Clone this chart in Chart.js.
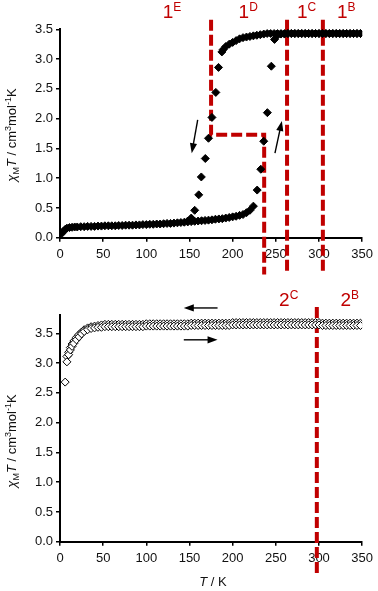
<!DOCTYPE html>
<html>
<head>
<meta charset="utf-8">
<script src="https://cdn.jsdelivr.net/npm/chart.js@4/dist/chart.umd.min.js"></script>
<style>
  html, body { margin: 0; padding: 0; background: #fff; }
  #wrap { position: relative; width: 378px; height: 591px; }
  canvas { position: absolute; left: 0; }
  #chartTop { top: 0; }
  #chartBot { top: 285px; }
</style>
</head>
<body>
<div id="wrap">
  <canvas id="chartTop" width="378" height="285"></canvas>
  <canvas id="chartBot" width="378" height="306"></canvas>
</div>
<script>
// --- data: compound 1 (filled diamonds), heating branch
var heatT1 = [2, 4, 6, 8, 11, 14, 17, 20, 24, 28,
  32, 36, 40, 44, 48, 52, 56, 60, 64, 68,
  72, 76, 80, 84, 88, 92, 96, 100, 104, 108,
  112, 116, 120, 124, 128, 132, 136, 140, 144, 148,
  152, 156, 160, 164, 168, 172, 176, 180, 184, 188,
  192, 196, 200, 204, 208, 212, 216, 220, 224, 228.4,
  232.6, 236, 240.2, 244.8, 248.5, 252, 256, 260, 264, 268,
  272, 276, 280, 284, 288, 292, 296, 300, 304, 308,
  312, 316, 320, 324, 328, 332, 336, 340, 344, 348];
var heatChi1 = [0.07, 0.11, 0.14, 0.16, 0.17, 0.175, 0.18, 0.18, 0.185, 0.185,
  0.19, 0.19, 0.19, 0.195, 0.195, 0.2, 0.2, 0.2, 0.2, 0.205,
  0.205, 0.21, 0.21, 0.21, 0.215, 0.215, 0.22, 0.22, 0.225, 0.225,
  0.23, 0.23, 0.235, 0.24, 0.24, 0.245, 0.25, 0.255, 0.26, 0.265,
  0.27, 0.275, 0.28, 0.285, 0.29, 0.295, 0.3, 0.31, 0.315, 0.32,
  0.33, 0.34, 0.35, 0.36, 0.375, 0.39, 0.42, 0.46, 0.53, 0.8,
  1.15, 1.62, 2.1, 2.88, 3.33, 3.4, 3.42, 3.42, 3.43, 3.43,
  3.43, 3.43, 3.43, 3.43, 3.43, 3.43, 3.43, 3.43, 3.43, 3.43,
  3.43, 3.43, 3.43, 3.43, 3.43, 3.43, 3.43, 3.43, 3.43, 3.43];

// compound 1, cooling branch
var coolT1 = [348, 344, 340, 336, 332, 328, 324, 320, 316, 312,
  308, 304, 300, 296, 292, 288, 284, 280, 276, 272,
  268, 264, 260, 256, 252, 248, 244, 240, 236, 232,
  228, 224, 220, 216, 212, 208, 204, 200, 196, 192,
  189, 187.5, 183.6, 180.5, 176, 172, 168.3, 163.7, 160.7, 156,
  152, 148];
var coolChi1 = [3.43, 3.43, 3.43, 3.43, 3.43, 3.43, 3.43, 3.43, 3.43, 3.43,
  3.43, 3.43, 3.43, 3.43, 3.43, 3.43, 3.43, 3.43, 3.43, 3.43,
  3.43, 3.43, 3.43, 3.43, 3.43, 3.43, 3.43, 3.43, 3.42, 3.41,
  3.40, 3.39, 3.38, 3.37, 3.36, 3.34, 3.31, 3.28, 3.25, 3.21,
  3.16, 3.12, 2.86, 2.44, 2.02, 1.67, 1.33, 1.02, 0.72, 0.46,
  0.33, 0.28];

// compound 2 (open diamonds), both branches on one temperature grid
var temps2 = [6, 8, 10, 12, 14, 16, 19, 22, 25, 28,
  32, 36, 40, 44, 48, 52, 56, 60, 64, 68,
  72, 76, 80, 84, 88, 92, 96, 100, 104, 108,
  112, 116, 120, 124, 128, 132, 136, 140, 144, 148,
  152, 156, 160, 164, 168, 172, 176, 180, 184, 188,
  192, 196, 200, 204, 208, 212, 216, 220, 224, 228,
  232, 236, 240, 244, 248, 252, 256, 260, 264, 268,
  272, 276, 280, 284, 288, 292, 296, 300, 304, 308,
  312, 316, 320, 324, 328, 332, 336, 340, 344, 348];
var heatChi2 = [2.68, 3.02, 3.14, 3.22, 3.28, 3.33, 3.39, 3.44, 3.49, 3.53,
  3.56, 3.58, 3.59, 3.60, 3.60, 3.61, 3.61, 3.61, 3.61, 3.61,
  3.61, 3.61, 3.61, 3.61, 3.61, 3.61, 3.61, 3.62, 3.62, 3.62,
  3.62, 3.62, 3.62, 3.62, 3.62, 3.62, 3.62, 3.62, 3.62, 3.62,
  3.63, 3.63, 3.63, 3.63, 3.63, 3.63, 3.63, 3.63, 3.63, 3.63,
  3.63, 3.63, 3.64, 3.64, 3.64, 3.64, 3.64, 3.64, 3.64, 3.64,
  3.64, 3.64, 3.64, 3.64, 3.64, 3.64, 3.64, 3.64, 3.64, 3.64,
  3.64, 3.64, 3.64, 3.64, 3.64, 3.64, 3.64, 3.64, 3.63, 3.63,
  3.63, 3.63, 3.63, 3.63, 3.63, 3.63, 3.63, 3.63, 3.63, 3.63];
var coolChi2 = [null, 3.11, 3.18, 3.26, 3.32, 3.37, 3.43, 3.48, 3.52, 3.56,
  3.59, 3.61, 3.62, 3.63, 3.64, 3.65, 3.65, 3.65, 3.65, 3.65,
  3.65, 3.65, 3.65, 3.65, 3.65, 3.65, 3.65, 3.66, 3.66, 3.66,
  3.66, 3.66, 3.66, 3.66, 3.66, 3.66, 3.66, 3.66, 3.66, 3.66,
  3.67, 3.67, 3.67, 3.67, 3.67, 3.67, 3.67, 3.67, 3.67, 3.67,
  3.67, 3.67, 3.68, 3.68, 3.68, 3.68, 3.68, 3.68, 3.68, 3.68,
  3.68, 3.68, 3.68, 3.68, 3.68, 3.68, 3.68, 3.68, 3.68, 3.68,
  3.68, 3.68, 3.68, 3.68, 3.68, 3.68, 3.68, 3.68, 3.67, 3.67,
  3.67, 3.67, 3.67, 3.67, 3.67, 3.67, 3.67, 3.67, 3.67, 3.67];

// ticks
var xTicks = [0, 50, 100, 150, 200, 250, 300, 350];
var yTicks = [0, 0.5, 1, 1.5, 2, 2.5, 3, 3.5];

// red dashed markers (phase temperatures)
var redLineTopA_T = [175, 175, 236.5, 236.5];
var redLineTopA_Y = [3.66, 1.73, 1.73, -0.62];
var redLineTopC_T = [263, 263];
var redLineTopB_T = [304.5, 304.5];
var redLineTop_Y = [3.66, -0.62];
var redLineBot_T = [297.5, 297.5];
var redLineBot_Y = [3.94, -0.59];

var RED = '#c00000';
var FONT = '"Liberation Sans", Arial, sans-serif';

function pts(xs, ys) {
  return xs.map(function(x, i) { return { x: x, y: ys[i] }; });
}

function drawRich(ctx, parts, cx, cy, rotate, color) {
  ctx.save();
  ctx.translate(cx, cy);
  if (rotate) ctx.rotate(-Math.PI / 2);
  var total = 0;
  parts.forEach(function(p) { ctx.font = p.font; p.w = ctx.measureText(p.t).width; total += p.w; });
  var x = -total / 2;
  ctx.textBaseline = 'alphabetic';
  ctx.textAlign = 'left';
  ctx.fillStyle = color;
  parts.forEach(function(p) { ctx.font = p.font; ctx.fillText(p.t, x, p.dy || 0); x += p.w; });
  ctx.restore();
}

function drawArrow(ctx, x1, y1, x2, y2) {
  var ang = Math.atan2(y2 - y1, x2 - x1);
  var hl = 10, hw = 3.6;
  ctx.save();
  ctx.strokeStyle = '#000';
  ctx.fillStyle = '#000';
  ctx.lineWidth = 1.4;
  ctx.beginPath();
  ctx.moveTo(x1, y1);
  ctx.lineTo(x2 - Math.cos(ang) * hl * 0.8, y2 - Math.sin(ang) * hl * 0.8);
  ctx.stroke();
  ctx.beginPath();
  ctx.moveTo(x2, y2);
  ctx.lineTo(x2 - Math.cos(ang) * hl - Math.sin(ang) * hw, y2 - Math.sin(ang) * hl + Math.cos(ang) * hw);
  ctx.lineTo(x2 - Math.cos(ang) * hl + Math.sin(ang) * hw, y2 - Math.sin(ang) * hl - Math.cos(ang) * hw);
  ctx.closePath();
  ctx.fill();
  ctx.restore();
}

var yTitleParts = [
  { t: 'χ', font: 'italic 13px ' + FONT },
  { t: 'M', font: '9px ' + FONT, dy: 3 },
  { t: 'T', font: 'italic 13px ' + FONT },
  { t: ' / cm', font: '13px ' + FONT },
  { t: '3', font: '9px ' + FONT, dy: -5 },
  { t: 'mol', font: '13px ' + FONT },
  { t: '-1', font: '9px ' + FONT, dy: -5 },
  { t: 'K', font: '13px ' + FONT }
];
var xTitleParts = [
  { t: 'T', font: 'italic 13px ' + FONT },
  { t: ' / K', font: '13px ' + FONT }
];

function annoPlugin(cfg) {
  return {
    id: 'anno',
    afterDatasetsDraw: function(chart) {
      var ctx = chart.ctx, xs = chart.scales.x, ys = chart.scales.y;
      cfg.arrows.forEach(function(a) {
        drawArrow(ctx, xs.getPixelForValue(a[0]), ys.getPixelForValue(a[1]),
          xs.getPixelForValue(a[2]), ys.getPixelForValue(a[3]));
      });
      cfg.labels.forEach(function(l) {
        drawRich(ctx, [
          { t: l[0], font: '19px ' + FONT },
          { t: l[1], font: '12px ' + FONT, dy: -7 }
        ], xs.getPixelForValue(l[2]), ys.getPixelForValue(l[3]), false, RED);
      });
      drawRich(ctx, yTitleParts, 16, cfg.titleY, true, '#111');
      if (cfg.xTitle) drawRich(ctx, xTitleParts, 213, cfg.xTitleY, false, '#111');
    }
  };
}

function redSet(xs, ys) {
  return {
    data: pts(xs, ys), showLine: true, borderColor: RED, borderWidth: 4,
    borderDash: [11, 4], pointRadius: 0, clip: false, fill: false
  };
}

function makeOptions(yMax, axisH, padTop) {
  return {
    responsive: false,
    animation: false,
    layout: { padding: { top: padTop, right: 13, left: 0, bottom: 0 } },
    plugins: { legend: { display: false }, tooltip: { enabled: false } },
    scales: {
      x: {
        type: 'linear', min: 0, max: 350,
        afterBuildTicks: function(s) { s.ticks = xTicks.map(function(v) { return { value: v }; }); },
        afterFit: function(s) { s.height = axisH; },
        grid: { display: true, drawOnChartArea: false, drawTicks: true, tickLength: 4, color: '#000', lineWidth: 1.5 },
        border: { display: true, color: '#000', width: 2 },
        ticks: { color: '#111', font: { family: FONT, size: 13 }, padding: 5, maxRotation: 0, autoSkip: false }
      },
      y: {
        type: 'linear', min: 0, max: yMax,
        afterBuildTicks: function(s) { s.ticks = yTicks.map(function(v) { return { value: v }; }); },
        afterFit: function(s) { s.width = 60; },
        grid: { display: true, drawOnChartArea: false, drawTicks: true, tickLength: 4, color: '#000', lineWidth: 1.5 },
        border: { display: true, color: '#000', width: 2 },
        ticks: {
          color: '#111', font: { family: FONT, size: 13 }, padding: 3,
          callback: function(v) { return Number(v).toFixed(1); }
        }
      }
    }
  };
}

new Chart(document.getElementById('chartTop'), {
  type: 'scatter',
  data: {
    datasets: [
      { data: pts(heatT1, heatChi1), pointStyle: 'rectRot', pointRadius: 4, backgroundColor: '#000', borderColor: '#000', borderWidth: 1, showLine: false },
      { data: pts(coolT1, coolChi1), pointStyle: 'rectRot', pointRadius: 4, backgroundColor: '#000', borderColor: '#000', borderWidth: 1, showLine: false },
      redSet(redLineTopA_T, redLineTopA_Y),
      redSet(redLineTopC_T, redLineTop_Y),
      redSet(redLineTopB_T, redLineTop_Y)
    ]
  },
  options: makeOptions(3.5, 47.3, 29.3),
  plugins: [annoPlugin({
    arrows: [[159.5, 1.98, 152.6, 1.42], [249, 1.42, 257, 1.96]],
    labels: [['1', 'E', 129.7, 3.685], ['1', 'D', 218, 3.685], ['1', 'C', 285.7, 3.685], ['1', 'B', 331.6, 3.685]],
    titleY: 135, xTitle: false
  })]
});

new Chart(document.getElementById('chartBot'), {
  type: 'scatter',
  data: {
    datasets: [
      { data: pts(temps2, heatChi2), pointStyle: 'rectRot', pointRadius: 4, backgroundColor: '#fff', borderColor: '#000', borderWidth: 1, showLine: false },
      { data: pts(temps2, coolChi2), pointStyle: 'rectRot', pointRadius: 4, backgroundColor: '#fff', borderColor: '#000', borderWidth: 1, showLine: false },
      redSet(redLineBot_T, redLineBot_Y)
    ]
  },
  options: makeOptions(3.8, 49.3, 30.4),
  plugins: [annoPlugin({
    arrows: [[182.5, 3.925, 143.4, 3.925], [143.4, 3.39, 182.5, 3.39]],
    labels: [['2', 'C', 264.9, 3.96], ['2', 'B', 335.6, 3.96]],
    titleY: 156, xTitle: true, xTitleY: 301
  })]
});
</script>
</body>
</html>
